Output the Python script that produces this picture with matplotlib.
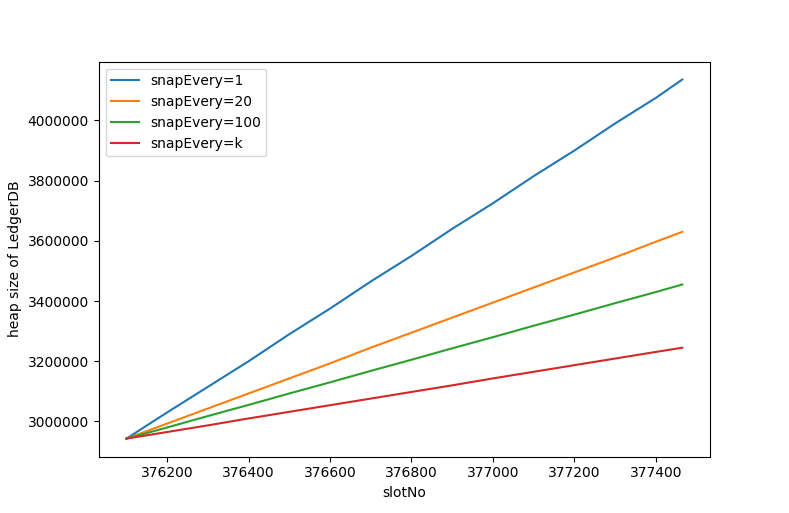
import matplotlib
matplotlib.use("Agg")
import matplotlib.pyplot as plt
from matplotlib.ticker import ScalarFormatter

slots = [376100, 376200, 376300, 376400, 376500, 376600, 376700, 376800, 376900,
         377000, 377100, 377200, 377300, 377400, 377465]
snap1 = [2943000, 3030000, 3115000, 3200000, 3290000, 3375000, 3465000, 3550000, 3640000,
         3725000, 3815000, 3900000, 3990000, 4075000, 4136000]
snap20 = [2943000, 2993000, 3043000, 3093000, 3143000, 3193000, 3245000, 3295000, 3345000,
          3395000, 3445000, 3495000, 3545000, 3597000, 3630000]
snap100 = [2943000, 2980000, 3018000, 3055000, 3093000, 3130000, 3168000, 3205000, 3243000,
           3280000, 3318000, 3355000, 3393000, 3430000, 3455000]
snapk = [2943000, 2965000, 2987000, 3010000, 3032000, 3054000, 3076000, 3098000, 3120000,
         3143000, 3165000, 3187000, 3209000, 3231000, 3245000]

fig, ax = plt.subplots(figsize=(7.89, 5.13), dpi=100)
ax.plot(slots, snap1, label="snapEvery=1")
ax.plot(slots, snap20, label="snapEvery=20")
ax.plot(slots, snap100, label="snapEvery=100")
ax.plot(slots, snapk, label="snapEvery=k")
fmt = ScalarFormatter(useOffset=False)
fmt.set_scientific(False)
ax.yaxis.set_major_formatter(fmt)
ax.set_xlabel("slotNo")
ax.set_ylabel("heap size of LedgerDB")
ax.legend(loc="upper left")
fig.savefig("out.png")
